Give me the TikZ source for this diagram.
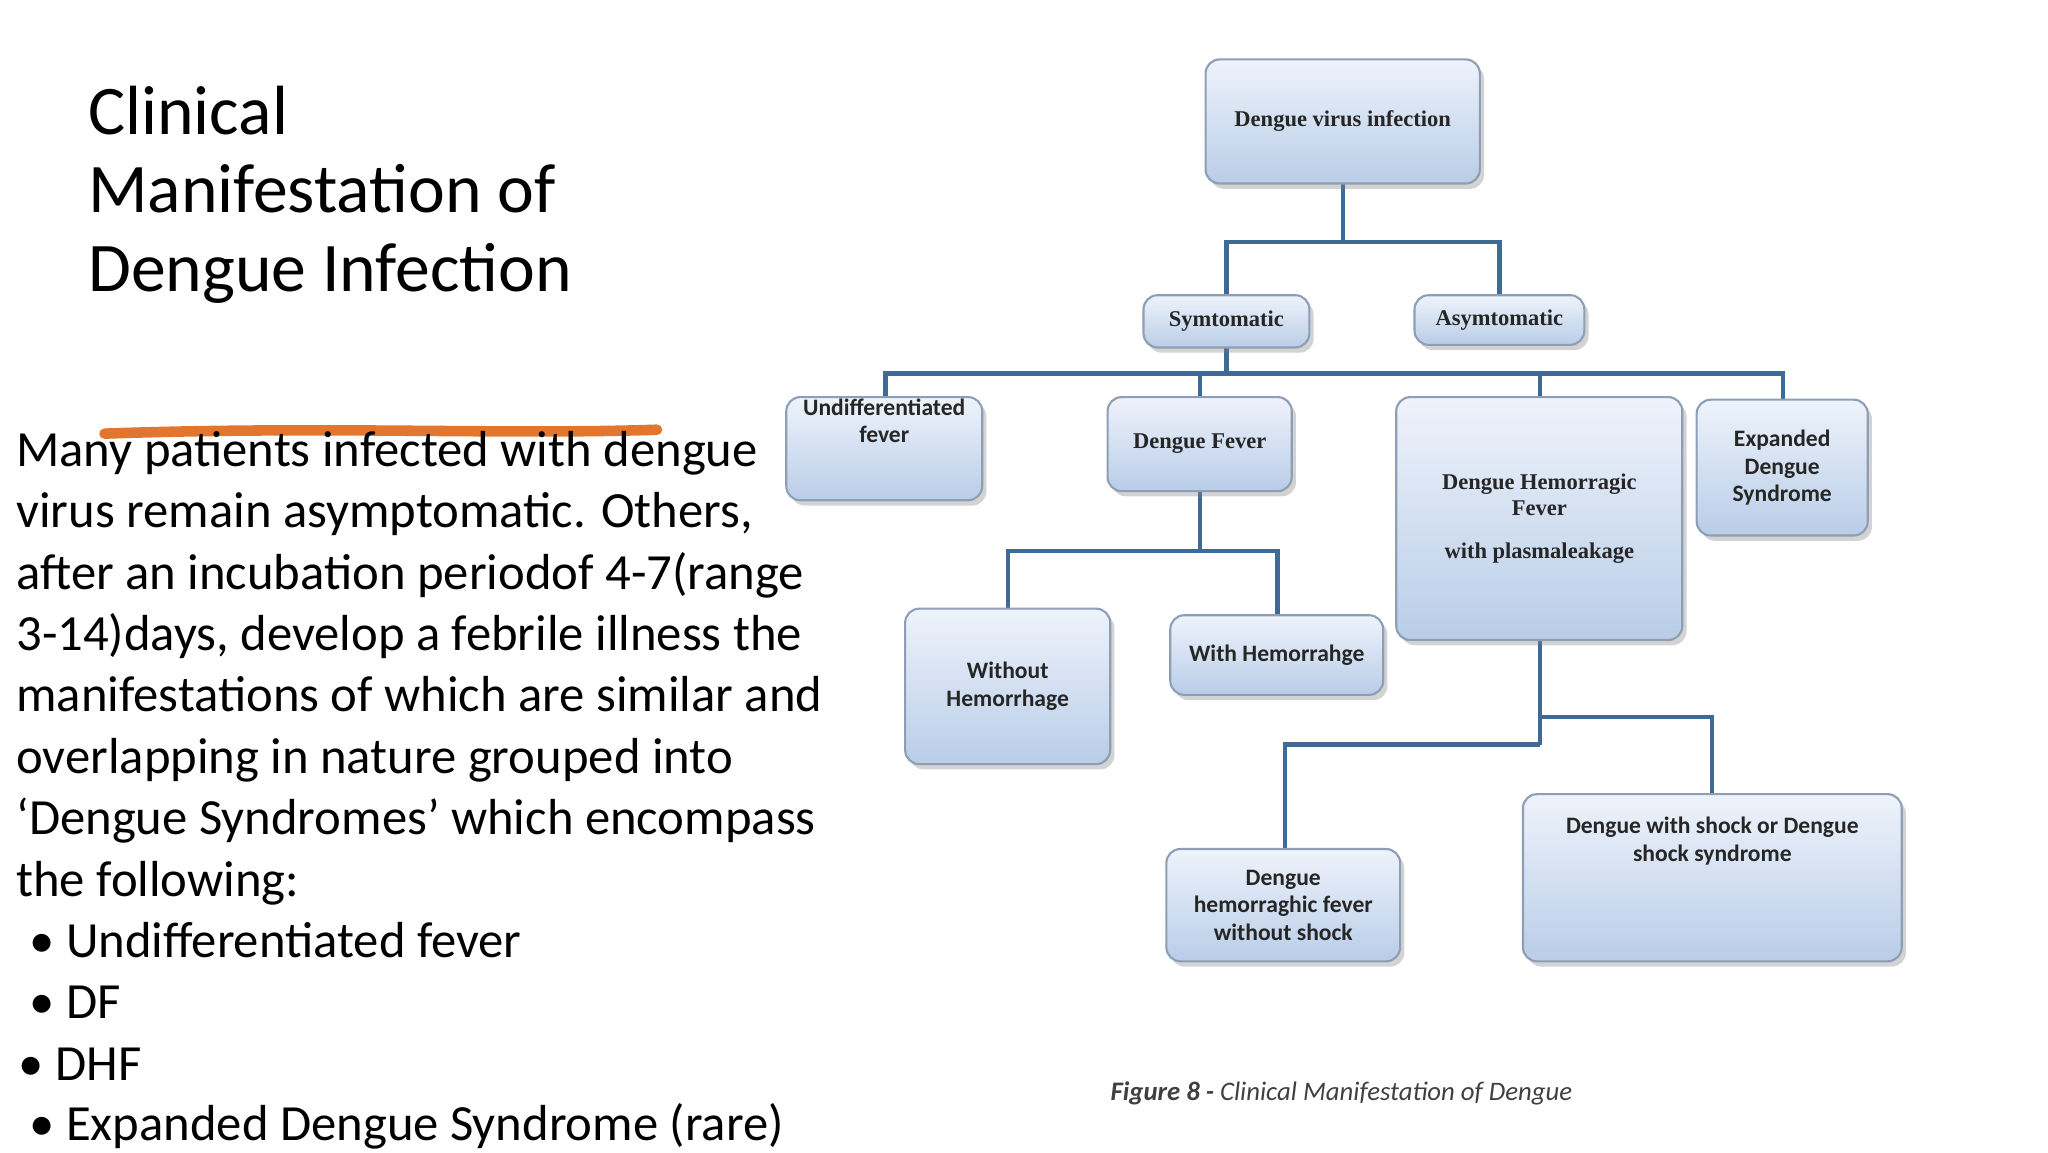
\documentclass[tikz,border=0pt]{standalone}
\usepackage{fontspec}
\setmainfont{Carlito}
\newfontfamily\serfont{Liberation Serif}
\usetikzlibrary{shadows}
\definecolor{lineblue}{HTML}{3F6A96}
\definecolor{boxtop}{HTML}{EEF3FB}
\definecolor{boxbot}{HTML}{B9CDE8}
\definecolor{boxedge}{HTML}{8E9FB5}
\definecolor{orangeline}{HTML}{E2762E}
\newcommand{\pxu}{0.01305cm}
\tikzset{
 box/.style={draw=boxedge, line width=0.6pt, rounded corners=4pt, top color=boxtop, bottom color=boxbot,
   drop shadow={shadow xshift=1.2pt, shadow yshift=-1.5pt, opacity=0.35}, align=center, inner sep=0pt},
 sertxt/.style={font=\serfont\bfseries\fontsize{6.4}{7.2}\selectfont, text=black!85},
 santxt/.style={font=\bfseries\fontsize{6.7}{7.8}\selectfont, text=black!85},
 conn/.style={draw=lineblue, line width=1.2pt},
 body/.style={anchor=base west, inner sep=0pt, font=\fontsize{14.4}{17.7}\selectfont},
 ttl/.style={anchor=base west, inner sep=0pt, font=\fontsize{19.8}{22.5}\selectfont}
}
\begin{document}
\begin{tikzpicture}[x=\pxu, y=-\pxu]
\useasboundingbox (0,0) rectangle (1568,882);
% title
\node[ttl] (t1) at (67,103) {Clinical};
\node[ttl] (t2) at (67,163) {Manifestation of};
\node[ttl] (t3) at (67,223) {Dengue Infection};
% orange underline
\draw[orangeline, line width=3pt, line cap=round] (80,332) .. controls (250,326) and (380,333) .. (503,329);
% body
\node[body] (b1) at (12,357) {Many patients infected with dengue};
\node[body] (b2) at (12,404) {virus remain asymptomatic. Others,};
\node[body] (b3) at (12,451) {after an incubation periodof 4-7(range};
\node[body] (b4) at (12,498) {3-14)days, develop a febrile illness the};
\node[body] (b5) at (12,545) {manifestations of which are similar and};
\node[body] (b6) at (12,592) {overlapping in nature grouped into};
\node[body] (b7) at (12,639) {‘Dengue Syndromes’ which encompass};
\node[body] (b8) at (12,686) {the following:};
\node[body] (b9) at (22,733) {• Undifferentiated fever};
\node[body] (b10) at (22,780) {• DF};
\node[body] (b11) at (14,827) {• DHF};
\node[body] (b12) at (22,873) {• Expanded Dengue Syndrome (rare)};
% connectors
\coordinate (j1) at (1028,185);
\coordinate (j2) at (939,286);
\coordinate (j3) at (919,422);
\coordinate (j4) at (1179,549);
\coordinate (j5) at (1179,570);
\draw[conn] (1028,141) -- (j1) -- (939,185) -- (939,226);
\draw[conn] (j1) -- (1148,185) -- (1148,226);
\draw[conn] (939,266) -- (j2);
\draw[conn] (678,304) -- (678,286) -- (1365,286) -- (1365,306);
\draw[conn] (919,286) -- (919,304);
\draw[conn] (1179,286) -- (1179,304);
\draw[conn] (919,376) -- (j3);
\draw[conn] (772,466) -- (772,422) -- (978,422) -- (978,471);
\draw[conn] (1179,490) -- (j5);
\draw[conn] (j4) -- (1311,549) -- (1311,608);
\draw[conn] (j5) -- (984,570) -- (984,650);
% boxes
\node[box, sertxt, minimum width=210*\pxu, minimum height=95*\pxu] (dvi) at (1028,93) {Dengue virus infection};
\node[box, sertxt, minimum width=127*\pxu, minimum height=40*\pxu] (sym) at (939,246) {Symtomatic};
\node[box, sertxt, minimum width=130*\pxu, minimum height=38*\pxu] (asym) at (1148,245) {Asymtomatic};
\node[box, santxt, minimum width=150*\pxu, minimum height=79*\pxu] (uf) at (677,343.5) {Undifferentiated\\fever\\[8pt]\mbox{}};
\node[box, sertxt, minimum width=141*\pxu, minimum height=72*\pxu] (df) at (918.5,340) {Dengue Fever};
\node[box, sertxt, minimum width=219*\pxu, minimum height=186*\pxu] (dhf) at (1178.5,397) {Dengue Hemorragic\\Fever\\[5pt]with plasmaleakage};
\node[box, santxt, minimum width=131*\pxu, minimum height=104*\pxu] (eds) at (1364.5,358) {Expanded\\Dengue\\Syndrome};
\node[box, santxt, minimum width=157*\pxu, minimum height=119*\pxu] (woh) at (771.5,525.5) {Without\\Hemorrhage};
\node[box, santxt, minimum width=163*\pxu, minimum height=61*\pxu] (wh) at (977.5,501.5) {With Hemorrahge};
\node[box, santxt, minimum width=179*\pxu, minimum height=86*\pxu] (dws) at (982.5,693) {Dengue\\hemorraghic fever\\without shock};
\node[box, santxt, minimum width=290*\pxu, minimum height=128*\pxu] (dss) at (1311,672) {Dengue with shock or Dengue\\shock syndrome\\[14pt]\mbox{}};
% caption
\node[font=\itshape\fontsize{7.6}{9}\selectfont, text=black!75] (cap) at (1027,837) {\textbf{Figure 8 -} Clinical Manifestation of Dengue};
\end{tikzpicture}
\end{document}
